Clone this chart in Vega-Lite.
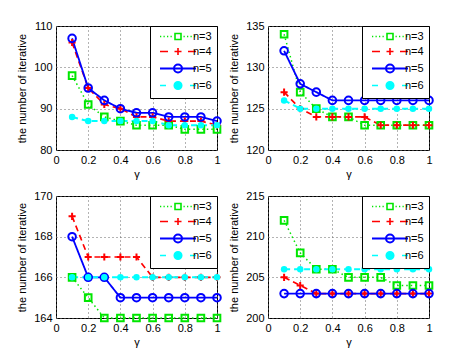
{
  "$schema": "https://vega.github.io/schema/vega-lite/v6.json",
  "padding": {"left": 16, "top": 19, "right": 0, "bottom": 0},
  "background": "white",
  "datasets": {
    "p1": [
      {"g":0.1,"n":"n=3","v":98},{"g":0.2,"n":"n=3","v":91},{"g":0.3,"n":"n=3","v":88},{"g":0.4,"n":"n=3","v":87},{"g":0.5,"n":"n=3","v":86},{"g":0.6,"n":"n=3","v":86},{"g":0.7,"n":"n=3","v":86},{"g":0.8,"n":"n=3","v":85},{"g":0.9,"n":"n=3","v":85},{"g":1.0,"n":"n=3","v":85},
      {"g":0.1,"n":"n=4","v":106},{"g":0.2,"n":"n=4","v":95},{"g":0.3,"n":"n=4","v":91},{"g":0.4,"n":"n=4","v":90},{"g":0.5,"n":"n=4","v":88},{"g":0.6,"n":"n=4","v":88},{"g":0.7,"n":"n=4","v":87},{"g":0.8,"n":"n=4","v":87},{"g":0.9,"n":"n=4","v":87},{"g":1.0,"n":"n=4","v":86},
      {"g":0.1,"n":"n=5","v":107},{"g":0.2,"n":"n=5","v":95},{"g":0.3,"n":"n=5","v":92},{"g":0.4,"n":"n=5","v":90},{"g":0.5,"n":"n=5","v":89},{"g":0.6,"n":"n=5","v":89},{"g":0.7,"n":"n=5","v":88},{"g":0.8,"n":"n=5","v":88},{"g":0.9,"n":"n=5","v":88},{"g":1.0,"n":"n=5","v":87},
      {"g":0.1,"n":"n=6","v":88},{"g":0.2,"n":"n=6","v":87},{"g":0.3,"n":"n=6","v":87},{"g":0.4,"n":"n=6","v":87},{"g":0.5,"n":"n=6","v":87},{"g":0.6,"n":"n=6","v":87},{"g":0.7,"n":"n=6","v":86},{"g":0.8,"n":"n=6","v":86},{"g":0.9,"n":"n=6","v":86},{"g":1.0,"n":"n=6","v":86}
    ],
    "p2": [
      {"g":0.1,"n":"n=3","v":134},{"g":0.2,"n":"n=3","v":127},{"g":0.3,"n":"n=3","v":125},{"g":0.4,"n":"n=3","v":124},{"g":0.5,"n":"n=3","v":124},{"g":0.6,"n":"n=3","v":123},{"g":0.7,"n":"n=3","v":123},{"g":0.8,"n":"n=3","v":123},{"g":0.9,"n":"n=3","v":123},{"g":1.0,"n":"n=3","v":123},
      {"g":0.1,"n":"n=4","v":127},{"g":0.2,"n":"n=4","v":125},{"g":0.3,"n":"n=4","v":124},{"g":0.4,"n":"n=4","v":124},{"g":0.5,"n":"n=4","v":124},{"g":0.6,"n":"n=4","v":124},{"g":0.7,"n":"n=4","v":123},{"g":0.8,"n":"n=4","v":123},{"g":0.9,"n":"n=4","v":123},{"g":1.0,"n":"n=4","v":123},
      {"g":0.1,"n":"n=5","v":132},{"g":0.2,"n":"n=5","v":128},{"g":0.3,"n":"n=5","v":127},{"g":0.4,"n":"n=5","v":126},{"g":0.5,"n":"n=5","v":126},{"g":0.6,"n":"n=5","v":126},{"g":0.7,"n":"n=5","v":126},{"g":0.8,"n":"n=5","v":126},{"g":0.9,"n":"n=5","v":126},{"g":1.0,"n":"n=5","v":126},
      {"g":0.1,"n":"n=6","v":126},{"g":0.2,"n":"n=6","v":125},{"g":0.3,"n":"n=6","v":125},{"g":0.4,"n":"n=6","v":125},{"g":0.5,"n":"n=6","v":125},{"g":0.6,"n":"n=6","v":125},{"g":0.7,"n":"n=6","v":125},{"g":0.8,"n":"n=6","v":125},{"g":0.9,"n":"n=6","v":125},{"g":1.0,"n":"n=6","v":125}
    ],
    "p3": [
      {"g":0.1,"n":"n=3","v":166},{"g":0.2,"n":"n=3","v":165},{"g":0.3,"n":"n=3","v":164},{"g":0.4,"n":"n=3","v":164},{"g":0.5,"n":"n=3","v":164},{"g":0.6,"n":"n=3","v":164},{"g":0.7,"n":"n=3","v":164},{"g":0.8,"n":"n=3","v":164},{"g":0.9,"n":"n=3","v":164},{"g":1.0,"n":"n=3","v":164},
      {"g":0.1,"n":"n=4","v":169},{"g":0.2,"n":"n=4","v":167},{"g":0.3,"n":"n=4","v":167},{"g":0.4,"n":"n=4","v":167},{"g":0.5,"n":"n=4","v":167},{"g":0.6,"n":"n=4","v":166},{"g":0.7,"n":"n=4","v":166},{"g":0.8,"n":"n=4","v":166},{"g":0.9,"n":"n=4","v":166},{"g":1.0,"n":"n=4","v":166},
      {"g":0.1,"n":"n=5","v":168},{"g":0.2,"n":"n=5","v":166},{"g":0.3,"n":"n=5","v":166},{"g":0.4,"n":"n=5","v":165},{"g":0.5,"n":"n=5","v":165},{"g":0.6,"n":"n=5","v":165},{"g":0.7,"n":"n=5","v":165},{"g":0.8,"n":"n=5","v":165},{"g":0.9,"n":"n=5","v":165},{"g":1.0,"n":"n=5","v":165},
      {"g":0.1,"n":"n=6","v":166},{"g":0.2,"n":"n=6","v":166},{"g":0.3,"n":"n=6","v":166},{"g":0.4,"n":"n=6","v":166},{"g":0.5,"n":"n=6","v":166},{"g":0.6,"n":"n=6","v":166},{"g":0.7,"n":"n=6","v":166},{"g":0.8,"n":"n=6","v":166},{"g":0.9,"n":"n=6","v":166},{"g":1.0,"n":"n=6","v":166}
    ],
    "p4": [
      {"g":0.1,"n":"n=3","v":212},{"g":0.2,"n":"n=3","v":208},{"g":0.3,"n":"n=3","v":206},{"g":0.4,"n":"n=3","v":206},{"g":0.5,"n":"n=3","v":205},{"g":0.6,"n":"n=3","v":205},{"g":0.7,"n":"n=3","v":205},{"g":0.8,"n":"n=3","v":204},{"g":0.9,"n":"n=3","v":204},{"g":1.0,"n":"n=3","v":204},
      {"g":0.1,"n":"n=4","v":205},{"g":0.2,"n":"n=4","v":204},{"g":0.3,"n":"n=4","v":203},{"g":0.4,"n":"n=4","v":203},{"g":0.5,"n":"n=4","v":203},{"g":0.6,"n":"n=4","v":203},{"g":0.7,"n":"n=4","v":203},{"g":0.8,"n":"n=4","v":203},{"g":0.9,"n":"n=4","v":203},{"g":1.0,"n":"n=4","v":203},
      {"g":0.1,"n":"n=5","v":203},{"g":0.2,"n":"n=5","v":203},{"g":0.3,"n":"n=5","v":203},{"g":0.4,"n":"n=5","v":203},{"g":0.5,"n":"n=5","v":203},{"g":0.6,"n":"n=5","v":203},{"g":0.7,"n":"n=5","v":203},{"g":0.8,"n":"n=5","v":203},{"g":0.9,"n":"n=5","v":203},{"g":1.0,"n":"n=5","v":203},
      {"g":0.1,"n":"n=6","v":206},{"g":0.2,"n":"n=6","v":206},{"g":0.3,"n":"n=6","v":206},{"g":0.4,"n":"n=6","v":206},{"g":0.5,"n":"n=6","v":206},{"g":0.6,"n":"n=6","v":206},{"g":0.7,"n":"n=6","v":206},{"g":0.8,"n":"n=6","v":206},{"g":0.9,"n":"n=6","v":206},{"g":1.0,"n":"n=6","v":206}
    ]
  },
  "spacing": 9,
  "resolve": {"scale": {"color": "independent"}, "legend": {"color": "independent"}},
  "vconcat": [
    {
      "spacing": 2,
      "resolve": {"scale": {"color": "independent"}, "legend": {"color": "independent"}},
      "hconcat": [
        {
          "width": 161, "height": 124,
          "data": {"name": "p1"},
          "encoding": {
            "x": {"field": "g", "type": "quantitative", "scale": {"domain": [0, 1]}, "axis": {"values": [0, 0.2, 0.4, 0.6, 0.8, 1], "format": "~g", "title": "γ"}},
            "y": {"field": "v", "type": "quantitative", "scale": {"domain": [80, 110]}, "axis": {"values": [80, 90, 100, 110], "title": "the number of iterative"}},
            "color": {"field": "n", "type": "nominal", "scale": {"domain": ["n=3","n=4","n=5","n=6"], "range": ["#00e600","#ff0000","#0000ff","#00ffff"]},
              "legend": {"title": null, "orient": "top-right", "offset": 0, "fillColor": "white", "strokeColor": "black",
                "encode": {
                  "legend": {"update": {"fill": {"value": "white"}, "stroke": {"value": "black"}, "strokeWidth": {"value": 1}}},
                  "symbols": {"update": {
                  "shape": {"signal": "datum.value=='n=3'?'M-0.1,0h0.25M0.6,0h0.25M1.3,0h0.25M2,0h0.25M2.9,-0.6h1.2v1.2h-1.2ZM4.6,0h0.25M5.3,0h0.25M6,0h0.25M6.7,0h0.25':datum.value=='n=4'?'M-0.1,0H1.5M5.5,0H7.1M2.8,0H4.2M3.5,-0.7V0.7':datum.value=='n=5'?'M-0.1,0H7.1M4.3,0A0.8,0.8 0 1,1 2.7,0A0.8,0.8 0 1,1 4.3,0Z':'M-0.1,0H1.1M5.9,0H7.1M4.25,0A0.75,0.75 0 1,1 2.75,0A0.75,0.75 0 1,1 4.25,0Z'"},
                  "fill": {"signal": "datum.value=='n=6'?'#00ffff':'transparent'"},
                  "strokeWidth": {"signal": "datum.value=='n=5'?2:1.6"},
                  "opacity": {"value": 1}
                }}}}}
          },
          "layer": [
            {"mark": {"type": "line"}, "encoding": {
              "strokeDash": {"field": "n", "type": "nominal", "scale": {"domain": ["n=3","n=4","n=5","n=6"], "range": [[1.5,3],[6,4],[1,0],[6,4]]}, "legend": null},
              "strokeWidth": {"field": "n", "type": "ordinal", "scale": {"domain": ["n=3","n=4","n=5","n=6"], "range": [1.5, 2, 2.2, 2]}, "legend": null}}},
            {"transform": [{"filter": "datum.n != 'n=6'"}],
             "mark": {"type": "point", "filled": false, "opacity": 1, "strokeWidth": 2},
             "encoding": {
               "shape": {"field": "n", "type": "nominal", "scale": {"domain": ["n=3","n=4","n=5","n=6"], "range": ["square","M-1,0H1M0,-1V1","circle","circle"]}, "legend": null},
               "size": {"field": "n", "type": "ordinal", "scale": {"domain": ["n=3","n=4","n=5","n=6"], "range": [44, 64, 72, 42]}, "legend": null}
             }},
            {"transform": [{"filter": "datum.n == 'n=6'"}],
             "mark": {"type": "point", "shape": "circle", "filled": true, "opacity": 1, "size": 42, "strokeWidth": 0},
             "encoding": {"color": {"value": "#00ffff"}}}
          ]
        },
        {
          "width": 161, "height": 124,
          "data": {"name": "p2"},
          "encoding": {
            "x": {"field": "g", "type": "quantitative", "scale": {"domain": [0, 1]}, "axis": {"values": [0, 0.2, 0.4, 0.6, 0.8, 1], "format": "~g", "title": "γ"}},
            "y": {"field": "v", "type": "quantitative", "scale": {"domain": [120, 135]}, "axis": {"values": [120, 125, 130, 135], "title": "the number of iterative"}},
            "color": {"field": "n", "type": "nominal", "scale": {"domain": ["n=3","n=4","n=5","n=6"], "range": ["#00e600","#ff0000","#0000ff","#00ffff"]},
              "legend": {"title": null, "orient": "top-right", "offset": 0, "fillColor": "white", "strokeColor": "black",
                "encode": {
                  "legend": {"update": {"fill": {"value": "white"}, "stroke": {"value": "black"}, "strokeWidth": {"value": 1}}},
                  "symbols": {"update": {
                  "shape": {"signal": "datum.value=='n=3'?'M-0.1,0h0.25M0.6,0h0.25M1.3,0h0.25M2,0h0.25M2.9,-0.6h1.2v1.2h-1.2ZM4.6,0h0.25M5.3,0h0.25M6,0h0.25M6.7,0h0.25':datum.value=='n=4'?'M-0.1,0H1.5M5.5,0H7.1M2.8,0H4.2M3.5,-0.7V0.7':datum.value=='n=5'?'M-0.1,0H7.1M4.3,0A0.8,0.8 0 1,1 2.7,0A0.8,0.8 0 1,1 4.3,0Z':'M-0.1,0H1.1M5.9,0H7.1M4.25,0A0.75,0.75 0 1,1 2.75,0A0.75,0.75 0 1,1 4.25,0Z'"},
                  "fill": {"signal": "datum.value=='n=6'?'#00ffff':'transparent'"},
                  "strokeWidth": {"signal": "datum.value=='n=5'?2:1.6"},
                  "opacity": {"value": 1}
                }}}}}
          },
          "layer": [
            {"mark": {"type": "line"}, "encoding": {
              "strokeDash": {"field": "n", "type": "nominal", "scale": {"domain": ["n=3","n=4","n=5","n=6"], "range": [[1.5,3],[6,4],[1,0],[6,4]]}, "legend": null},
              "strokeWidth": {"field": "n", "type": "ordinal", "scale": {"domain": ["n=3","n=4","n=5","n=6"], "range": [1.5, 2, 2.2, 2]}, "legend": null}}},
            {"transform": [{"filter": "datum.n != 'n=6'"}],
             "mark": {"type": "point", "filled": false, "opacity": 1, "strokeWidth": 2},
             "encoding": {
               "shape": {"field": "n", "type": "nominal", "scale": {"domain": ["n=3","n=4","n=5","n=6"], "range": ["square","M-1,0H1M0,-1V1","circle","circle"]}, "legend": null},
               "size": {"field": "n", "type": "ordinal", "scale": {"domain": ["n=3","n=4","n=5","n=6"], "range": [44, 64, 72, 42]}, "legend": null}
             }},
            {"transform": [{"filter": "datum.n == 'n=6'"}],
             "mark": {"type": "point", "shape": "circle", "filled": true, "opacity": 1, "size": 42, "strokeWidth": 0},
             "encoding": {"color": {"value": "#00ffff"}}}
          ]
        }
      ]
    },
    {
      "spacing": 2,
      "resolve": {"scale": {"color": "independent"}, "legend": {"color": "independent"}},
      "hconcat": [
        {
          "width": 161, "height": 122,
          "data": {"name": "p3"},
          "encoding": {
            "x": {"field": "g", "type": "quantitative", "scale": {"domain": [0, 1]}, "axis": {"values": [0, 0.2, 0.4, 0.6, 0.8, 1], "format": "~g", "title": "γ"}},
            "y": {"field": "v", "type": "quantitative", "scale": {"domain": [164, 170]}, "axis": {"values": [164, 166, 168, 170], "title": "the number of iterative"}},
            "color": {"field": "n", "type": "nominal", "scale": {"domain": ["n=3","n=4","n=5","n=6"], "range": ["#00e600","#ff0000","#0000ff","#00ffff"]},
              "legend": {"title": null, "orient": "top-right", "offset": 0, "fillColor": "white", "strokeColor": "black",
                "encode": {
                  "legend": {"update": {"fill": {"value": "white"}, "stroke": {"value": "black"}, "strokeWidth": {"value": 1}}},
                  "symbols": {"update": {
                  "shape": {"signal": "datum.value=='n=3'?'M-0.1,0h0.25M0.6,0h0.25M1.3,0h0.25M2,0h0.25M2.9,-0.6h1.2v1.2h-1.2ZM4.6,0h0.25M5.3,0h0.25M6,0h0.25M6.7,0h0.25':datum.value=='n=4'?'M-0.1,0H1.5M5.5,0H7.1M2.8,0H4.2M3.5,-0.7V0.7':datum.value=='n=5'?'M-0.1,0H7.1M4.3,0A0.8,0.8 0 1,1 2.7,0A0.8,0.8 0 1,1 4.3,0Z':'M-0.1,0H1.1M5.9,0H7.1M4.25,0A0.75,0.75 0 1,1 2.75,0A0.75,0.75 0 1,1 4.25,0Z'"},
                  "fill": {"signal": "datum.value=='n=6'?'#00ffff':'transparent'"},
                  "strokeWidth": {"signal": "datum.value=='n=5'?2:1.6"},
                  "opacity": {"value": 1}
                }}}}}
          },
          "layer": [
            {"mark": {"type": "line"}, "encoding": {
              "strokeDash": {"field": "n", "type": "nominal", "scale": {"domain": ["n=3","n=4","n=5","n=6"], "range": [[1.5,3],[6,4],[1,0],[6,4]]}, "legend": null},
              "strokeWidth": {"field": "n", "type": "ordinal", "scale": {"domain": ["n=3","n=4","n=5","n=6"], "range": [1.5, 2, 2.2, 2]}, "legend": null}}},
            {"transform": [{"filter": "datum.n != 'n=6'"}],
             "mark": {"type": "point", "filled": false, "opacity": 1, "strokeWidth": 2},
             "encoding": {
               "shape": {"field": "n", "type": "nominal", "scale": {"domain": ["n=3","n=4","n=5","n=6"], "range": ["square","M-1,0H1M0,-1V1","circle","circle"]}, "legend": null},
               "size": {"field": "n", "type": "ordinal", "scale": {"domain": ["n=3","n=4","n=5","n=6"], "range": [44, 64, 72, 42]}, "legend": null}
             }},
            {"transform": [{"filter": "datum.n == 'n=6'"}],
             "mark": {"type": "point", "shape": "circle", "filled": true, "opacity": 1, "size": 42, "strokeWidth": 0},
             "encoding": {"color": {"value": "#00ffff"}}}
          ]
        },
        {
          "width": 161, "height": 122,
          "data": {"name": "p4"},
          "encoding": {
            "x": {"field": "g", "type": "quantitative", "scale": {"domain": [0, 1]}, "axis": {"values": [0, 0.2, 0.4, 0.6, 0.8, 1], "format": "~g", "title": "γ"}},
            "y": {"field": "v", "type": "quantitative", "scale": {"domain": [200, 215]}, "axis": {"values": [200, 205, 210, 215], "title": "the number of iterative"}},
            "color": {"field": "n", "type": "nominal", "scale": {"domain": ["n=3","n=4","n=5","n=6"], "range": ["#00e600","#ff0000","#0000ff","#00ffff"]},
              "legend": {"title": null, "orient": "top-right", "offset": 0, "fillColor": "white", "strokeColor": "black",
                "encode": {
                  "legend": {"update": {"fill": {"value": "white"}, "stroke": {"value": "black"}, "strokeWidth": {"value": 1}}},
                  "symbols": {"update": {
                  "shape": {"signal": "datum.value=='n=3'?'M-0.1,0h0.25M0.6,0h0.25M1.3,0h0.25M2,0h0.25M2.9,-0.6h1.2v1.2h-1.2ZM4.6,0h0.25M5.3,0h0.25M6,0h0.25M6.7,0h0.25':datum.value=='n=4'?'M-0.1,0H1.5M5.5,0H7.1M2.8,0H4.2M3.5,-0.7V0.7':datum.value=='n=5'?'M-0.1,0H7.1M4.3,0A0.8,0.8 0 1,1 2.7,0A0.8,0.8 0 1,1 4.3,0Z':'M-0.1,0H1.1M5.9,0H7.1M4.25,0A0.75,0.75 0 1,1 2.75,0A0.75,0.75 0 1,1 4.25,0Z'"},
                  "fill": {"signal": "datum.value=='n=6'?'#00ffff':'transparent'"},
                  "strokeWidth": {"signal": "datum.value=='n=5'?2:1.6"},
                  "opacity": {"value": 1}
                }}}}}
          },
          "layer": [
            {"mark": {"type": "line"}, "encoding": {
              "strokeDash": {"field": "n", "type": "nominal", "scale": {"domain": ["n=3","n=4","n=5","n=6"], "range": [[1.5,3],[6,4],[1,0],[6,4]]}, "legend": null},
              "strokeWidth": {"field": "n", "type": "ordinal", "scale": {"domain": ["n=3","n=4","n=5","n=6"], "range": [1.5, 2, 2.2, 2]}, "legend": null}}},
            {"transform": [{"filter": "datum.n != 'n=6'"}],
             "mark": {"type": "point", "filled": false, "opacity": 1, "strokeWidth": 2},
             "encoding": {
               "shape": {"field": "n", "type": "nominal", "scale": {"domain": ["n=3","n=4","n=5","n=6"], "range": ["square","M-1,0H1M0,-1V1","circle","circle"]}, "legend": null},
               "size": {"field": "n", "type": "ordinal", "scale": {"domain": ["n=3","n=4","n=5","n=6"], "range": [44, 64, 72, 42]}, "legend": null}
             }},
            {"transform": [{"filter": "datum.n == 'n=6'"}],
             "mark": {"type": "point", "shape": "circle", "filled": true, "opacity": 1, "size": 42, "strokeWidth": 0},
             "encoding": {"color": {"value": "#00ffff"}}}
          ]
        }
      ]
    }
  ],
  "config": {
    "font": "Liberation Sans",
    "view": {"stroke": "black", "strokeWidth": 1},
    "axis": {
      "domain": false, "grid": true, "gridColor": "#666", "gridDash": [1, 3], "gridWidth": 1,
      "ticks": false,
      "labelFlush": false, "labelOverlap": false,
      "labelFont": "Liberation Sans", "labelFontSize": 11, "labelColor": "black",
      "titleFont": "Liberation Sans", "titleFontSize": 11, "titleFontWeight": "normal", "titleColor": "black"
    },
    "axisX": {"titlePadding": 3, "labelPadding": 4},
    "axisY": {"titlePadding": 6, "labelPadding": 4},
    "legend": {
      "padding": 5, "fillColor": "white", "strokeColor": "black",
      "labelFont": "Liberation Sans", "labelFontSize": 11, "labelColor": "black",
      "labelOffset": 27, "rowPadding": 1, "symbolSize": 100, "symbolStrokeWidth": 1.6
    }
  }
}
